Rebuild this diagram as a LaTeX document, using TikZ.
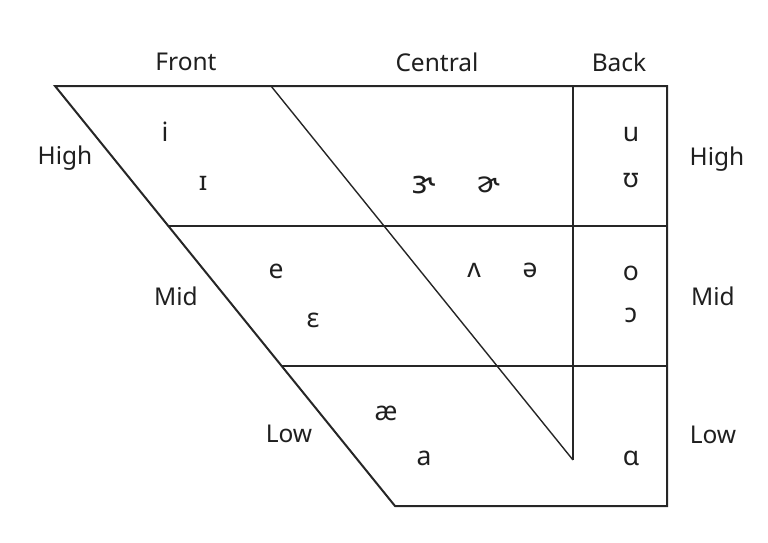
\documentclass[tikz,border=0pt]{standalone}
\usepackage{fontspec}
\setmainfont{Noto Sans}
\newfontfamily\ipafont{DejaVu Sans}
\begin{document}
\begin{tikzpicture}[x=1pt,y=-1pt,
  frame/.style={line width=2pt, draw=black!85},
  thin/.style={line width=1.4pt, draw=black!85},
  lab/.style={font=\fontsize{24.5}{26}\selectfont, text=black!88, inner sep=0pt},
  vow/.style={font=\fontsize{26.5}{28}\selectfont, text=black!88, inner sep=0pt},
  rhot/.style={font=\ipafont\fontsize{31}{33}\selectfont, text=black!88, inner sep=0pt},
  rhotb/.style={font=\ipafont\fontsize{28}{30}\selectfont, text=black!88, inner sep=0pt}]
\useasboundingbox (0,0) rectangle (768,543);
\coordinate (TL) at (55,86);
\coordinate (TR) at (667,86);
\coordinate (BL) at (395,506);
\coordinate (BR) at (667,506);
\coordinate (CT) at (271,86);
\coordinate (CB) at (573,460);
\coordinate (BT) at (573,86);
\coordinate (M1L) at (168,226);
\coordinate (M1R) at (667,226);
\coordinate (M2L) at (282,366);
\coordinate (M2R) at (667,366);
\draw[frame] (TL) -- (TR) -- (BR) -- (BL) -- cycle;
\draw[frame] (M1L) -- (M1R);
\draw[frame] (M2L) -- (M2R);
\draw[frame] (BT) -- (CB);
\draw[thin] (CT) -- (CB);
% column labels
\node[lab] (front) at (186,62) {Front};
\node[lab] (central) at (437,62) {Central};
\node[lab] (back) at (619,62) {Back};
% row labels
\node[lab] (highL) at (65,158) {High};
\node[lab] (midL) at (176,296) {Mid};
\node[lab] (lowL) at (289,434) {Low};
\node[lab] (highR) at (717,159) {High};
\node[lab] (midR) at (713,296) {Mid};
\node[lab] (lowR) at (713,435) {Low};
% vowels
\node[vow] (i) at (165,132) {i};
\node[vow] (I) at (203,183) {ɪ};
\node[rhot, anchor=base] (er) at (424,193) {ɝ};
\node[rhotb, anchor=base] (schwar) at (488,192) {ɚ};
\node[vow] (u) at (631,135) {u};
\node[vow] (U) at (631,181) {ʊ};
\node[vow] (e) at (276,271) {e};
\node[vow] (eps) at (313,320) {ɛ};
\node[vow] (wedge) at (474,270) {ʌ};
\node[vow] (schwa) at (530,270) {ə};
\node[vow] (o) at (631,273) {o};
\node[vow] (open) at (631,315) {ɔ};
\node[vow] (ae) at (386,413) {æ};
\node[vow] (a) at (424,458) {a};
\node[vow] (alpha) at (631,458) {ɑ};
\end{tikzpicture}
\end{document}
